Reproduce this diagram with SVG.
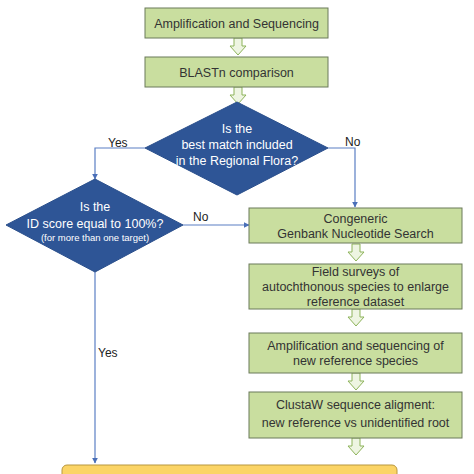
<svg xmlns="http://www.w3.org/2000/svg" width="474" height="474" viewBox="0 0 474 474">
<defs>
<style>
.box{fill:#c9de9f;stroke:#6b7a5a;stroke-width:1}
.dia{fill:#2e5596;stroke:#2a4f8c;stroke-width:1}
.bt{font-family:"Liberation Sans",Arial,sans-serif;font-size:12.5px;fill:#333;text-anchor:middle}
.dt{font-family:"Liberation Sans",Arial,sans-serif;font-size:12.5px;fill:#fff;text-anchor:middle}
.ds{font-family:"Liberation Sans",Arial,sans-serif;font-size:9.5px;fill:#fff;text-anchor:middle}
.lb{font-family:"Liberation Sans",Arial,sans-serif;font-size:12px;fill:#222}
.con{fill:none;stroke:#5b7fc4;stroke-width:1.2}
.blk{fill:#eef5e2;stroke:#8db35a;stroke-width:1}
</style>
<marker id="ah" viewBox="0 0 10 10" refX="9" refY="5" markerWidth="5" markerHeight="5" orient="auto">
<path d="M0,0 L10,5 L0,10 z" fill="#4a6fb8"/>
</marker>
<path id="blkA" d="M-4,0 L4,0 L4,8 L8,8 L0,17 L-8,8 L-4,8 Z"/>
</defs>

<g id="connectors">
<polyline class="con" points="145,148 95,148 95,179" marker-end="url(#ah)"/>
<polyline class="con" points="328,148 355,148 355,207" marker-end="url(#ah)"/>
<line class="con" x1="183" y1="225" x2="249" y2="225" marker-end="url(#ah)"/>
<line class="con" x1="95" y1="272" x2="95" y2="463" marker-end="url(#ah)"/>
<text class="lb" x="108" y="147">Yes</text>
<text class="lb" x="345" y="146">No</text>
<text class="lb" x="193" y="221">No</text>
<text class="lb" x="98" y="357">Yes</text>
<use href="#blkA" class="blk" x="238" y="38"/>
<use href="#blkA" class="blk" x="238" y="87"/>
<use href="#blkA" class="blk" x="356" y="244"/>
<use href="#blkA" class="blk" x="356" y="309"/>
<use href="#blkA" class="blk" x="356" y="373"/>
<use href="#blkA" class="blk" x="356" y="438"/>
</g>

<g id="n1">
<rect class="box" x="145" y="8" width="183" height="30"/>
<text class="bt" x="236.5" y="27.5">Amplification and Sequencing</text>
</g>
<g id="n2">
<rect class="box" x="145" y="57" width="183" height="30"/>
<text class="bt" x="236.5" y="76.5">BLASTn comparison</text>
</g>
<g id="d1">
<polygon class="dia" points="237,102 328,148 237,195 145,148"/>
<text class="dt" x="237" y="133">Is the</text>
<text class="dt" x="237" y="149">best match included</text>
<text class="dt" x="237" y="165">in the Regional Flora?</text>
</g>
<g id="d2">
<polygon class="dia" points="95,179 183,225 95,272 6,225"/>
<text class="dt" x="95" y="211">Is the</text>
<text class="dt" x="95" y="228">ID score equal to 100%?</text>
<text class="ds" x="95" y="241">(for more than one target)</text>
</g>
<g id="n3">
<rect class="box" x="249" y="208" width="213" height="35"/>
<text class="bt" x="355.5" y="223">Congeneric</text>
<text class="bt" x="355.5" y="238">Genbank Nucleotide Search</text>
</g>
<g id="n4">
<rect class="box" x="249" y="264" width="213" height="45"/>
<text class="bt" x="355.5" y="275.5">Field surveys of</text>
<text class="bt" x="355.5" y="291">autochthonous species to enlarge</text>
<text class="bt" x="355.5" y="306">reference dataset</text>
</g>
<g id="n5">
<rect class="box" x="249" y="333" width="213" height="40"/>
<text class="bt" x="355.5" y="350">Amplification and sequencing of</text>
<text class="bt" x="355.5" y="365">new reference species</text>
</g>
<g id="n6">
<rect class="box" x="249" y="392" width="213" height="46"/>
<text class="bt" x="355.5" y="409">ClustaW sequence aligment:</text>
<text class="bt" x="355.5" y="427">new reference vs unidentified root</text>
</g>
<g id="n7">
<rect x="62" y="465" width="335" height="30" rx="5" fill="#fbd466" stroke="#b8973f" stroke-width="1"/>
</g>
</svg>
